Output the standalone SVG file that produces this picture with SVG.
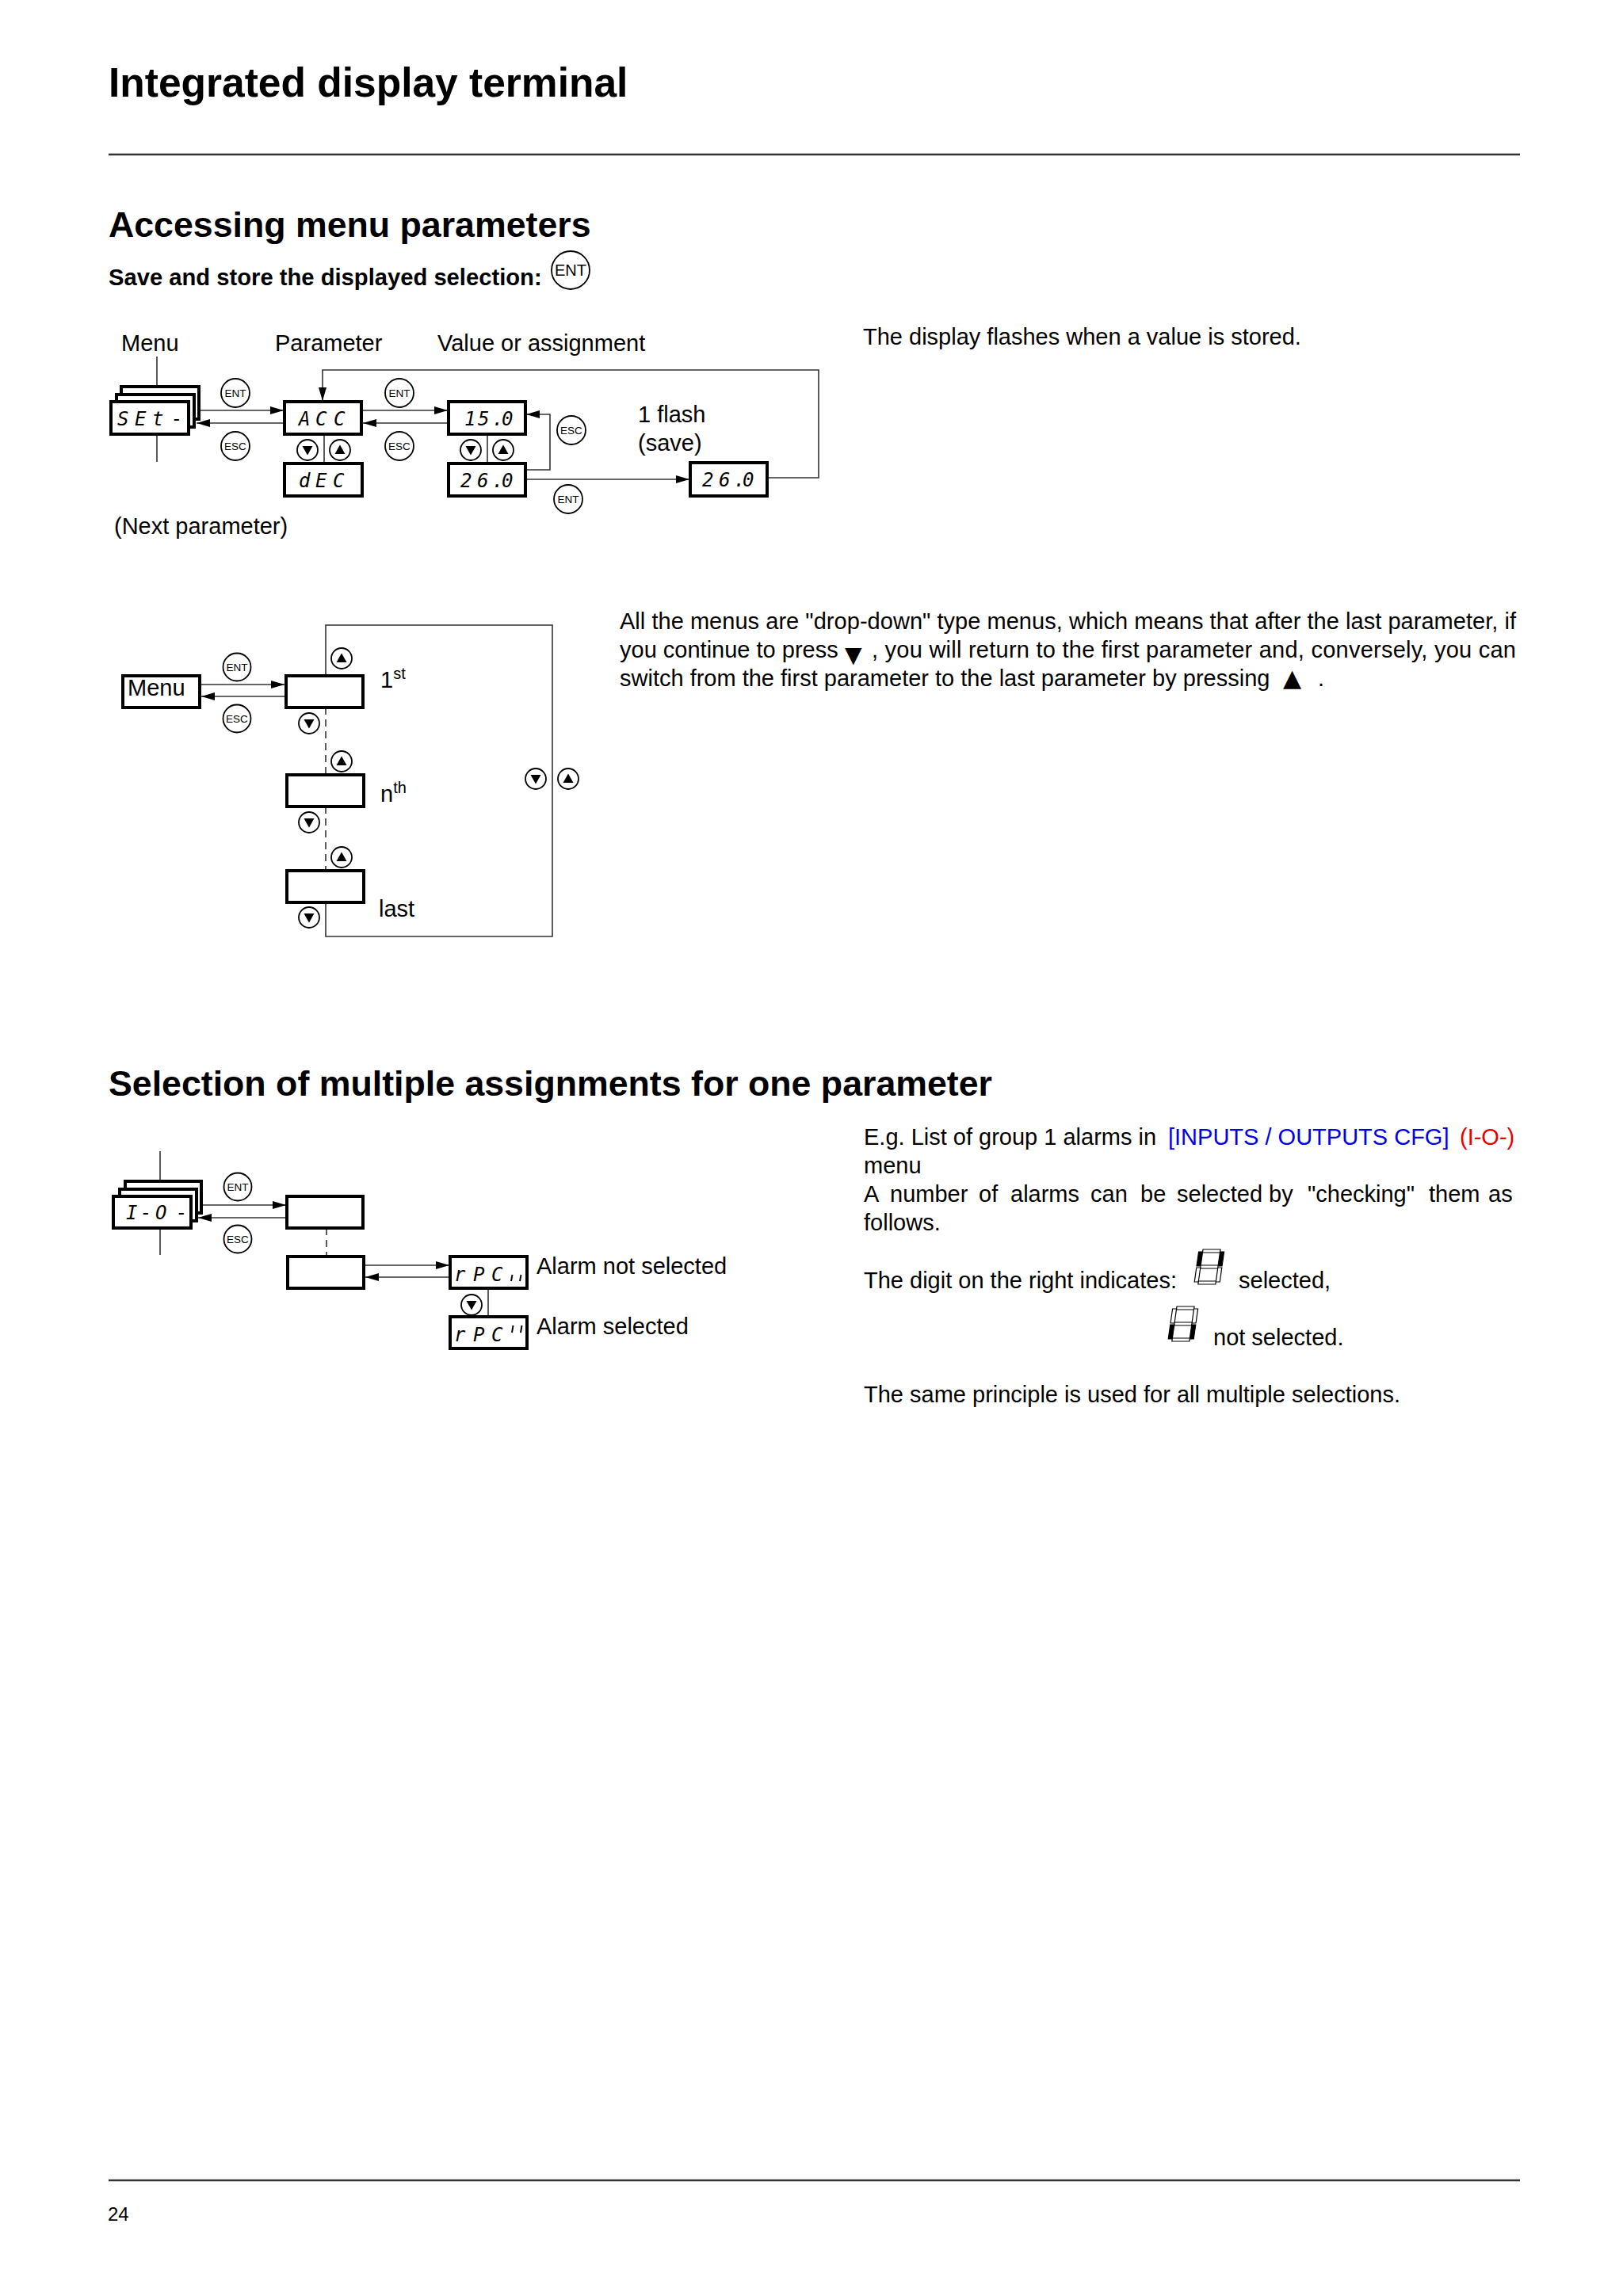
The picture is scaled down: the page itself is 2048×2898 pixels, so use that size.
<svg xmlns="http://www.w3.org/2000/svg" xmlns:xlink="http://www.w3.org/1999/xlink" width="2048" height="2898" viewBox="0 0 2048 2898">
<style>
.t{font-family:"Liberation Sans",Arial,sans-serif;font-size:29px;fill:#000}
.h1{font-family:"Liberation Sans",Arial,sans-serif;font-weight:bold;font-size:51.5px;fill:#000}
.h2{font-family:"Liberation Sans",Arial,sans-serif;font-weight:bold;font-size:44.7px;fill:#000}
.h3{font-family:"Liberation Sans",Arial,sans-serif;font-weight:bold;font-size:29.2px;fill:#000}
.seg{font-family:"DejaVu Sans Mono",monospace;font-size:24px;font-style:oblique;fill:#000}
.box{fill:#fff;stroke:#000;stroke-width:4}
.ln{stroke:#333;stroke-width:1.6;fill:none}
.arr{stroke:#333;stroke-width:1.6;fill:none;marker-end:url(#ah)}
.dash{stroke:#333;stroke-width:1.6;fill:none;stroke-dasharray:9 6}
.btn{fill:#fff;stroke:#000;stroke-width:1.8}
.bt{font-family:"Liberation Sans",Arial,sans-serif;font-size:13.5px;fill:#000;text-anchor:middle}
.rule{stroke:#333;stroke-width:2.5}
.sym{font-family:"DejaVu Sans",sans-serif;fill:#000}
.segw{fill:#fff;stroke:#000;stroke-width:1.2}
.segb{fill:#000;stroke:#000;stroke-width:1.2}
</style>
<defs>
<marker id="ah" markerUnits="userSpaceOnUse" markerWidth="17" markerHeight="10" refX="17" refY="5" orient="auto">
<path d="M0,0 L17,5 L0,10 z" fill="#000"/>
</marker>
<g id="dn"><circle r="13" class="btn"/><polygon points="-6.5,-5 6.5,-5 0,6.5" fill="#000"/></g>
<g id="up"><circle r="13" class="btn"/><polygon points="-6.5,5 6.5,5 0,-6.5" fill="#000"/></g>
</defs>
<rect width="2048" height="2898" fill="#fff"/>

<text class="h1" x="137" y="122">Integrated display terminal</text>
<line class="rule" x1="137" y1="195" x2="1918" y2="195"/>
<text class="h2" x="137" y="299">Accessing menu parameters</text>
<text class="h3" x="137" y="360">Save and store the displayed selection:</text>
<g id="heading-ent"><circle cx="720" cy="341" r="24" class="btn"/><text x="720" y="348" class="t" style="font-size:20px" text-anchor="middle">ENT</text></g>

<!-- Diagram 1 labels -->
<text class="t" x="153" y="443">Menu</text>
<text class="t" x="347" y="443">Parameter</text>
<text class="t" x="552" y="443">Value or assignment</text>
<text class="t" x="805" y="533">1 flash</text>
<text class="t" x="805" y="569">(save)</text>
<text class="t" x="144" y="674">(Next parameter)</text>
<text class="t" x="1089" y="435">The display flashes when a value is stored.</text>

<g id="connectors">
<!-- diagram 1 -->
<line class="ln" x1="198" y1="450" x2="198" y2="488"/>
<line class="ln" x1="198" y1="548" x2="198" y2="583"/>
<line class="arr" x1="251" y1="518" x2="358" y2="518"/>
<line class="arr" x1="357" y1="534" x2="248" y2="534"/>
<line class="arr" x1="456" y1="518" x2="565" y2="518"/>
<line class="arr" x1="565" y1="534" x2="458" y2="534"/>
<line class="ln" x1="409" y1="548" x2="409" y2="585"/>
<line class="ln" x1="615" y1="548" x2="615" y2="585"/>
<polyline class="arr" points="663,593 694,593 694,523 664,523"/>
<line class="arr" x1="663" y1="605" x2="870" y2="605"/>
<polyline class="arr" points="968,603 1033,603 1033,467 407,467 407,506"/>
<!-- diagram 2 -->
<line class="arr" x1="252" y1="864" x2="359" y2="864"/>
<line class="arr" x1="359" y1="879" x2="254" y2="879"/>
<polyline class="ln" points="411,853 411,789 697,789 697,1182 411,1182 411,1139"/>
<line class="dash" x1="411" y1="893" x2="411" y2="978"/>
<line class="dash" x1="411" y1="1018" x2="411" y2="1099"/>
<!-- diagram 3 -->
<line class="ln" x1="202" y1="1453" x2="202" y2="1491"/>
<line class="ln" x1="202" y1="1550" x2="202" y2="1584"/>
<line class="arr" x1="254" y1="1521" x2="361" y2="1521"/>
<line class="arr" x1="360" y1="1537" x2="250" y2="1537"/>
<line class="dash" x1="412" y1="1550" x2="412" y2="1586"/>
<line class="arr" x1="459" y1="1597" x2="567" y2="1597"/>
<line class="arr" x1="567" y1="1612" x2="461" y2="1612"/>
<line class="ln" x1="616" y1="1626" x2="616" y2="1662"/>
</g>

<!-- Diagram 1 nodes -->
<g id="menu-set">
<rect class="box" x="153" y="488" width="98" height="41"/>
<rect class="box" x="147" y="498" width="98" height="41"/>
<rect class="box" x="140" y="507" width="98" height="41"/>
<text class="seg" x="148 170 192 216" y="537">SEt-</text>
</g>
<g id="param-acc"><rect class="box" x="359" y="507" width="97" height="41"/><text class="seg" x="377 398 421" y="537">ACC</text></g>
<g id="param-dec"><rect class="box" x="359" y="585" width="98" height="41"/><text class="seg" x="377 398 420" y="615">dEC</text></g>
<g id="value-15"><rect class="box" x="566" y="507" width="97" height="41"/><text class="seg" x="586 603 621 633" y="537">15.0</text></g>
<g id="value-26"><rect class="box" x="566" y="585" width="97" height="41"/><text class="seg" x="581 602 621 633" y="615">26.0</text></g>
<g id="value-saved"><rect class="box" x="871" y="584" width="97" height="42"/><text class="seg" x="886 907 926 937" y="614">26.0</text></g>

<g id="buttons-1">
<circle class="btn" cx="297" cy="496" r="18"/><text class="bt" x="297" y="501">ENT</text>
<circle class="btn" cx="297" cy="563" r="18"/><text class="bt" x="297" y="568">ESC</text>
<circle class="btn" cx="504" cy="496" r="18"/><text class="bt" x="504" y="501">ENT</text>
<circle class="btn" cx="504" cy="563" r="18"/><text class="bt" x="504" y="568">ESC</text>
<circle class="btn" cx="721" cy="543" r="18"/><text class="bt" x="721" y="548">ESC</text>
<circle class="btn" cx="717" cy="630" r="18"/><text class="bt" x="717" y="635">ENT</text>
<use xlink:href="#dn" x="388" y="568"/>
<use xlink:href="#up" x="429" y="568"/>
<use xlink:href="#dn" x="594" y="568"/>
<use xlink:href="#up" x="635" y="568"/>
</g>

<!-- Diagram 2 -->
<g id="menu-box"><rect class="box" x="155" y="853" width="97" height="40"/><text class="t" x="161" y="878">Menu</text></g>
<g id="param-first"><rect class="box" x="361" y="853" width="97" height="40"/><text class="t" x="480" y="868">1<tspan style="font-size:20px" dy="-11">st</tspan></text></g>
<g id="param-nth"><rect class="box" x="362" y="978" width="97" height="40"/><text class="t" x="480" y="1012">n<tspan style="font-size:20px" dy="-11">th</tspan></text></g>
<g id="param-last"><rect class="box" x="362" y="1099" width="97" height="40"/><text class="t" x="478" y="1157">last</text></g>
<g id="buttons-2">
<circle class="btn" cx="299" cy="842" r="17.5"/><text class="bt" x="299" y="847">ENT</text>
<circle class="btn" cx="299" cy="907" r="17.5"/><text class="bt" x="299" y="912">ESC</text>
<use xlink:href="#up" x="431" y="831"/>
<use xlink:href="#dn" x="390" y="913"/>
<use xlink:href="#up" x="431" y="961"/>
<use xlink:href="#dn" x="390" y="1038"/>
<use xlink:href="#up" x="431" y="1082"/>
<use xlink:href="#dn" x="390" y="1158"/>
<use xlink:href="#dn" x="676" y="983"/>
<use xlink:href="#up" x="717" y="983"/>
</g>

<g id="para-dropdown">
<text class="t" x="782" y="794" textLength="1131" lengthAdjust="spacing">All the menus are "drop-down" type menus, which means that after the last parameter, if</text>
<text class="t" x="782" y="830">you continue to press</text>
<text class="sym" x="1066" y="836" style="font-size:28px">▼</text>
<text class="t" x="1100" y="830" textLength="813" lengthAdjust="spacing">, you will return to the first parameter and, conversely, you can</text>
<text class="t" x="782" y="866">switch from the first parameter to the last parameter by pressing</text>
<text class="sym" x="1619" y="866" style="font-size:30px">▲</text>
<text class="t" x="1663" y="866">.</text>
</g>

<!-- Section 3 -->
<text class="h2" x="137" y="1383">Selection of multiple assignments for one parameter</text>

<g id="menu-io">
<rect class="box" x="158" y="1491" width="96" height="40"/>
<rect class="box" x="151" y="1501" width="97" height="40"/>
<rect class="box" x="143" y="1510" width="98" height="40"/>
<text class="seg" x="159 177 196 222" y="1539">I-O-</text>
</g>
<g id="param-a"><rect class="box" x="362" y="1510" width="96" height="40"/></g>
<g id="param-b"><rect class="box" x="363" y="1586" width="96" height="40"/></g>
<g id="alarm-not-selected">
<rect class="box" x="568" y="1586" width="97" height="40"/>
<text class="seg" x="573 597 620" y="1617">rPC</text>
<line x1="645" y1="1617" x2="646.5" y2="1609" stroke="#000" stroke-width="2"/>
<line x1="656" y1="1617" x2="657.5" y2="1609" stroke="#000" stroke-width="2"/>
</g>
<g id="alarm-selected">
<rect class="box" x="568" y="1662" width="97" height="40"/>
<text class="seg" x="573 597 620" y="1693">rPC</text>
<line x1="646" y1="1682" x2="647.5" y2="1673" stroke="#000" stroke-width="2"/>
<line x1="657" y1="1682" x2="658.5" y2="1673" stroke="#000" stroke-width="2"/>
</g>
<g id="buttons-3">
<circle class="btn" cx="300" cy="1498" r="17.5"/><text class="bt" x="300" y="1503">ENT</text>
<circle class="btn" cx="300" cy="1564" r="17.5"/><text class="bt" x="300" y="1569">ESC</text>
<use xlink:href="#dn" x="595" y="1647"/>
</g>
<text class="t" x="677" y="1608">Alarm not selected</text>
<text class="t" x="677" y="1684">Alarm selected</text>

<g id="para-multiple">
<text class="t" x="1090" y="1445">E.g. List of group 1 alarms in </text>
<text class="t" x="1474" y="1445" style="fill:#0000e6">[INPUTS / OUTPUTS CFG]</text>
<text class="t" x="1842" y="1445" style="fill:#e60000">(I-O-)</text>
<text class="t" x="1090" y="1481">menu</text>
<text class="t" y="1517"><tspan x="1090">A</tspan><tspan x="1123">number</tspan><tspan x="1235">of</tspan><tspan x="1275">alarms</tspan><tspan x="1376">can</tspan><tspan x="1439">be</tspan><tspan x="1485">selected</tspan><tspan x="1601">by</tspan><tspan x="1650">"checking"</tspan><tspan x="1803">them</tspan><tspan x="1878">as</tspan></text>
<text class="t" x="1090" y="1553">follows.</text>
<text class="t" x="1090" y="1626">The digit on the right indicates:</text>
<text class="t" x="1563" y="1626">selected,</text>
<text class="t" x="1531" y="1698">not selected.</text>
<text class="t" x="1090" y="1770">The same principle is used for all multiple selections.</text>
</g>

<g id="digit-selected" transform="translate(1513,1577) skewX(-8)">
<rect class="segw" x="5" y="0" width="22" height="4"/>
<rect class="segb" x="0" y="3" width="5" height="18"/>
<rect class="segb" x="27" y="3" width="5" height="18"/>
<rect class="segw" x="5" y="20" width="22" height="4"/>
<rect class="segw" x="0" y="23" width="5" height="18"/>
<rect class="segw" x="27" y="23" width="5" height="18"/>
<rect class="segw" x="5" y="40" width="22" height="4"/>
</g>
<g id="digit-not-selected" transform="translate(1480,1649) skewX(-8)">
<rect class="segw" x="5" y="0" width="22" height="4"/>
<rect class="segw" x="0" y="3" width="5" height="18"/>
<rect class="segw" x="27" y="3" width="5" height="18"/>
<rect class="segw" x="5" y="20" width="22" height="4"/>
<rect class="segb" x="0" y="23" width="5" height="18"/>
<rect class="segb" x="27" y="23" width="5" height="18"/>
<rect class="segw" x="5" y="40" width="22" height="4"/>
</g>

<line class="rule" x1="137" y1="2752" x2="1918" y2="2752"/>
<text class="t" x="136" y="2803" style="font-size:24px">24</text>
</svg>
